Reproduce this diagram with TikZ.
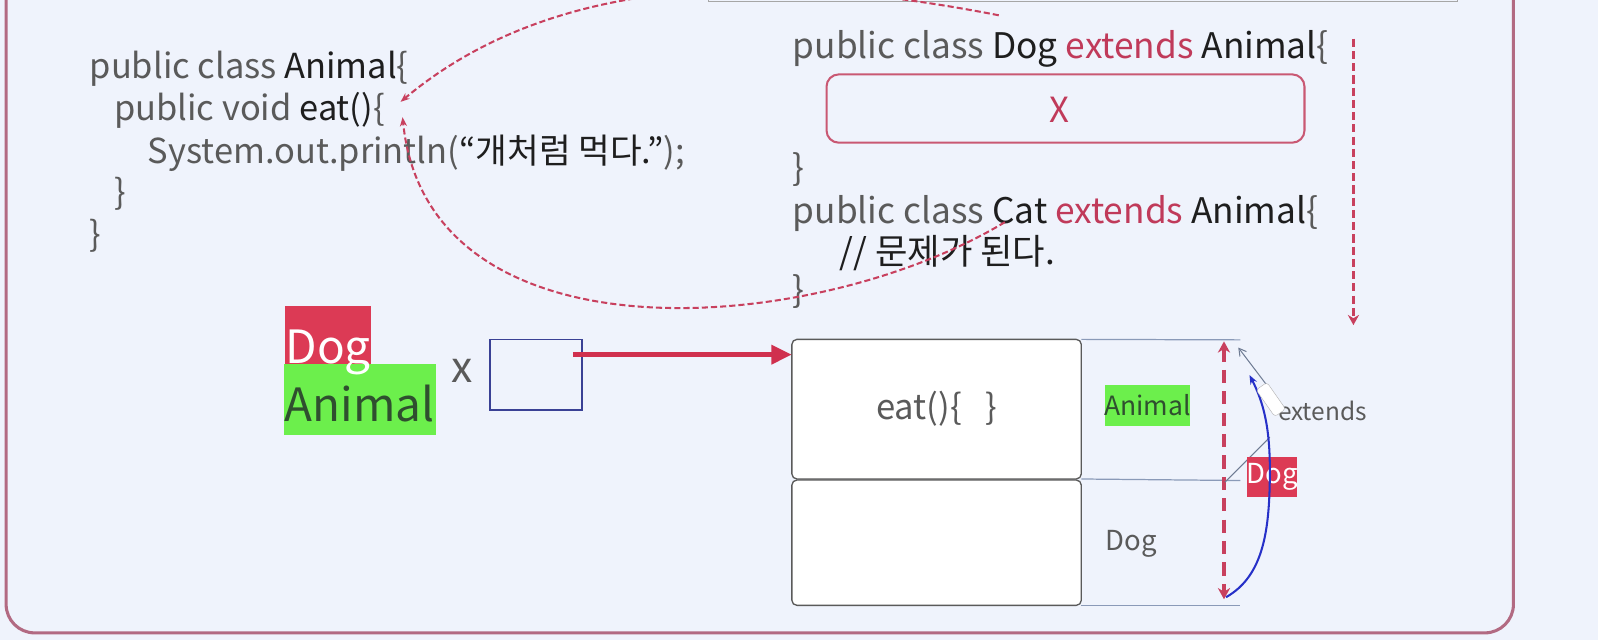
\documentclass[tikz,border=0pt]{standalone}
\usepackage{fontspec}
\setmainfont{Noto Sans CJK KR}
\usetikzlibrary{arrows.meta}
\definecolor{bgc}{HTML}{EFF3FC}
\definecolor{framec}{HTML}{B26A82}
\definecolor{crim}{HTML}{C03A5A}
\definecolor{redfill}{HTML}{DC3A55}
\definecolor{grn}{HTML}{6CEF4C}
\definecolor{dk}{HTML}{1E1E1E}
\definecolor{gr}{HTML}{5A5A5A}
\definecolor{dash}{HTML}{C8405E}
\definecolor{arrred}{HTML}{D0304E}
\definecolor{linec}{HTML}{8A9AB8}
\definecolor{bluec}{HTML}{2630C8}
\definecolor{grtext}{HTML}{2F4F2F}
\newcommand{\G}[1]{\textcolor{gr}{#1}}
\newcommand{\D}[1]{\textcolor{dk}{#1}}
\newcommand{\R}[1]{\textcolor{crim}{#1}}
\begin{document}
\begin{tikzpicture}[x=1pt,y=-1pt,
  every node/.style={inner sep=0pt,outer sep=0pt},
  code/.style={anchor=base west,font=\fontsize{33.8}{33.8}\selectfont,text=gr},
  rcode/.style={anchor=base west,font=\fontsize{34.6}{34.6}\selectfont,text=gr},
  membox/.style={draw=gr,line width=1.3pt,fill=white!97!bgc,rounded corners=5pt},
  hline/.style={draw=linec,line width=1.2pt},
  curvearrow/.style={draw=dash,line width=2pt,dash pattern=on 6pt off 3pt,-{Stealth[length=9pt,width=7pt]}},
  bigdash/.style={draw=dash,line width=3.2pt,dash pattern=on 8pt off 4pt}]
\useasboundingbox (0,0) rectangle (1568,628);
\fill[bgc] (0,0) rectangle (1568,628);
% frame
\draw[framec,line width=3pt,rounded corners=28pt] (6,-80) rectangle (1485,621);
\draw[gray!70,line width=1.3pt] (695,-40) rectangle (1430,1.5);

% left code
\node[code] (a1) at (88,77) {public class \D{Animal}\{};
\node[code] (a2) at (112,118) {public void \D{eat()}\{};
\node[code] (a3) at (145,160) {System.out.println(\D{“개처럼 먹다.”});};
\node[code] (a4) at (112,201) {\}};
\node[code] (a5) at (88,242) {\}};

% right code
\node[rcode] (d1) at (778,57) {public class \D{Dog} \R{extends} \D{Animal}\{};
\draw[draw=crim!85,line width=2pt,rounded corners=12pt] (811,73) rectangle (1280,140);
\node[text=crim,font=\fontsize{34}{34}\selectfont] (xx) at (1040,108) {X};
\node[rcode] (d2) at (778,177) {\}};
\node[rcode] (c1) at (778,219) {public class \D{Cat} \R{extends} \D{Animal}\{};
\node[rcode] (c2) at (824,260) {\D{// 문제가 된다.}};
\node[rcode] (c3) at (778,297) {\}};

% curved dashed arrows
\coordinate (s1) at (980,15);
\coordinate (e1) at (393,100);
\draw[curvearrow] (s1) .. controls (800,-20) and (560,-40) .. (e1);
\coordinate (s2) at (986,218);
\coordinate (e2) at (395,115);
\draw[curvearrow] (s2) .. controls (800,330) and (420,360) .. (e2);

% vertical dashed arrow
\coordinate (v1) at (1328,38);
\coordinate (v2) at (1328,319);
\draw[bigdash,-{Stealth[length=10pt,width=11pt]}] (v1) -- (v2);

% left objects
\node[fill=grn,minimum width=149pt,minimum height=70pt,anchor=north west] (anbox) at (279,357) {};
\node[fill=redfill,minimum width=84pt,minimum height=57pt,anchor=north west] (dogbox) at (280,300) {};
\node[anchor=base,text=white,font=\fontsize{45}{45}\selectfont] (dogt) at (322,357) {Dog};
\node[anchor=base,text=grtext,font=\fontsize{45}{45}\selectfont] (ant) at (353,414) {Animal};
\node[text=gr,font=\fontsize{42}{42}\selectfont] (xvar) at (453,364) {x};
\node[draw=linec!60!blue!70!black,line width=1.6pt,minimum width=90pt,minimum height=69pt,anchor=north west] (ref) at (481,333) {};

% memory boxes
\node[membox,minimum width=284pt,minimum height=137pt,anchor=north west] (mem1) at (777,333) {};
\node[membox,minimum width=284pt,minimum height=123pt,anchor=north west] (mem2) at (777,471) {};
\node[text=gr,font=\fontsize{34}{34}\selectfont] (eatt) at (919,401) {eat()\{\ \ \ \}};

% red solid arrow
\draw[arrred,line width=5pt,-{Triangle[length=20pt,width=18pt]}] (ref.north east |- 0,348) ++(-9,0) coordinate (r0) -- (mem1.west |- r0);

% horizontal lines
\draw[hline] (mem1.north east) -- (1217,333.5);
\draw[hline] (mem1.south east) -- (1217,471.5);
\draw[hline] (mem2.south east) -- (1217,594);

% labels
\node[fill=grn,minimum width=84pt,minimum height=40pt,anchor=north west] (anlab) at (1084,378) {};
\node[text=grtext,font=\fontsize{26}{26}\selectfont] at (anlab.center) {Animal};
\node[text=gr,font=\fontsize{27}{27}\selectfont] (doglab) at (1110,534) {Dog};

% double dashed arrow
\coordinate (da) at (1201,335);
\coordinate (db) at (1201,588);
\draw[draw=dash,line width=3.2pt,dash pattern=on 13pt off 8pt,{Stealth[length=11pt,width=12pt]}-{Stealth[length=11pt,width=12pt]}] (da) -- (db);

% extends annotation
\node[text=gr,font=\fontsize{24}{24}\selectfont,anchor=west] (ext) at (1254,403) {extends};
\draw[linec!80!black,line width=1pt] (1202,473) -- (1246,429);
\draw[linec!80!black,line width=1pt,-{Straight Barb[length=7pt,width=8pt]}] (1259,399) -- (1215,341);
\node[fill=redfill,minimum width=49pt,minimum height=40pt,anchor=north west] (redlab) at (1224,448) {};
\node[text=white,font=\fontsize{27}{27}\selectfont] at (redlab.center) {Dog};
\draw[bluec,line width=2pt,-{Stealth[length=9pt,width=7pt]}] (1203,586) .. controls (1240,565) and (1246,520) .. (1246,461) .. controls (1246,420) and (1240,395) .. (1226,368);
\node[draw=gray!60,fill=white,rounded corners=3pt,minimum width=32pt,minimum height=13pt,rotate=-55] (cursor) at (1247,392) {};
\end{tikzpicture}
\end{document}
